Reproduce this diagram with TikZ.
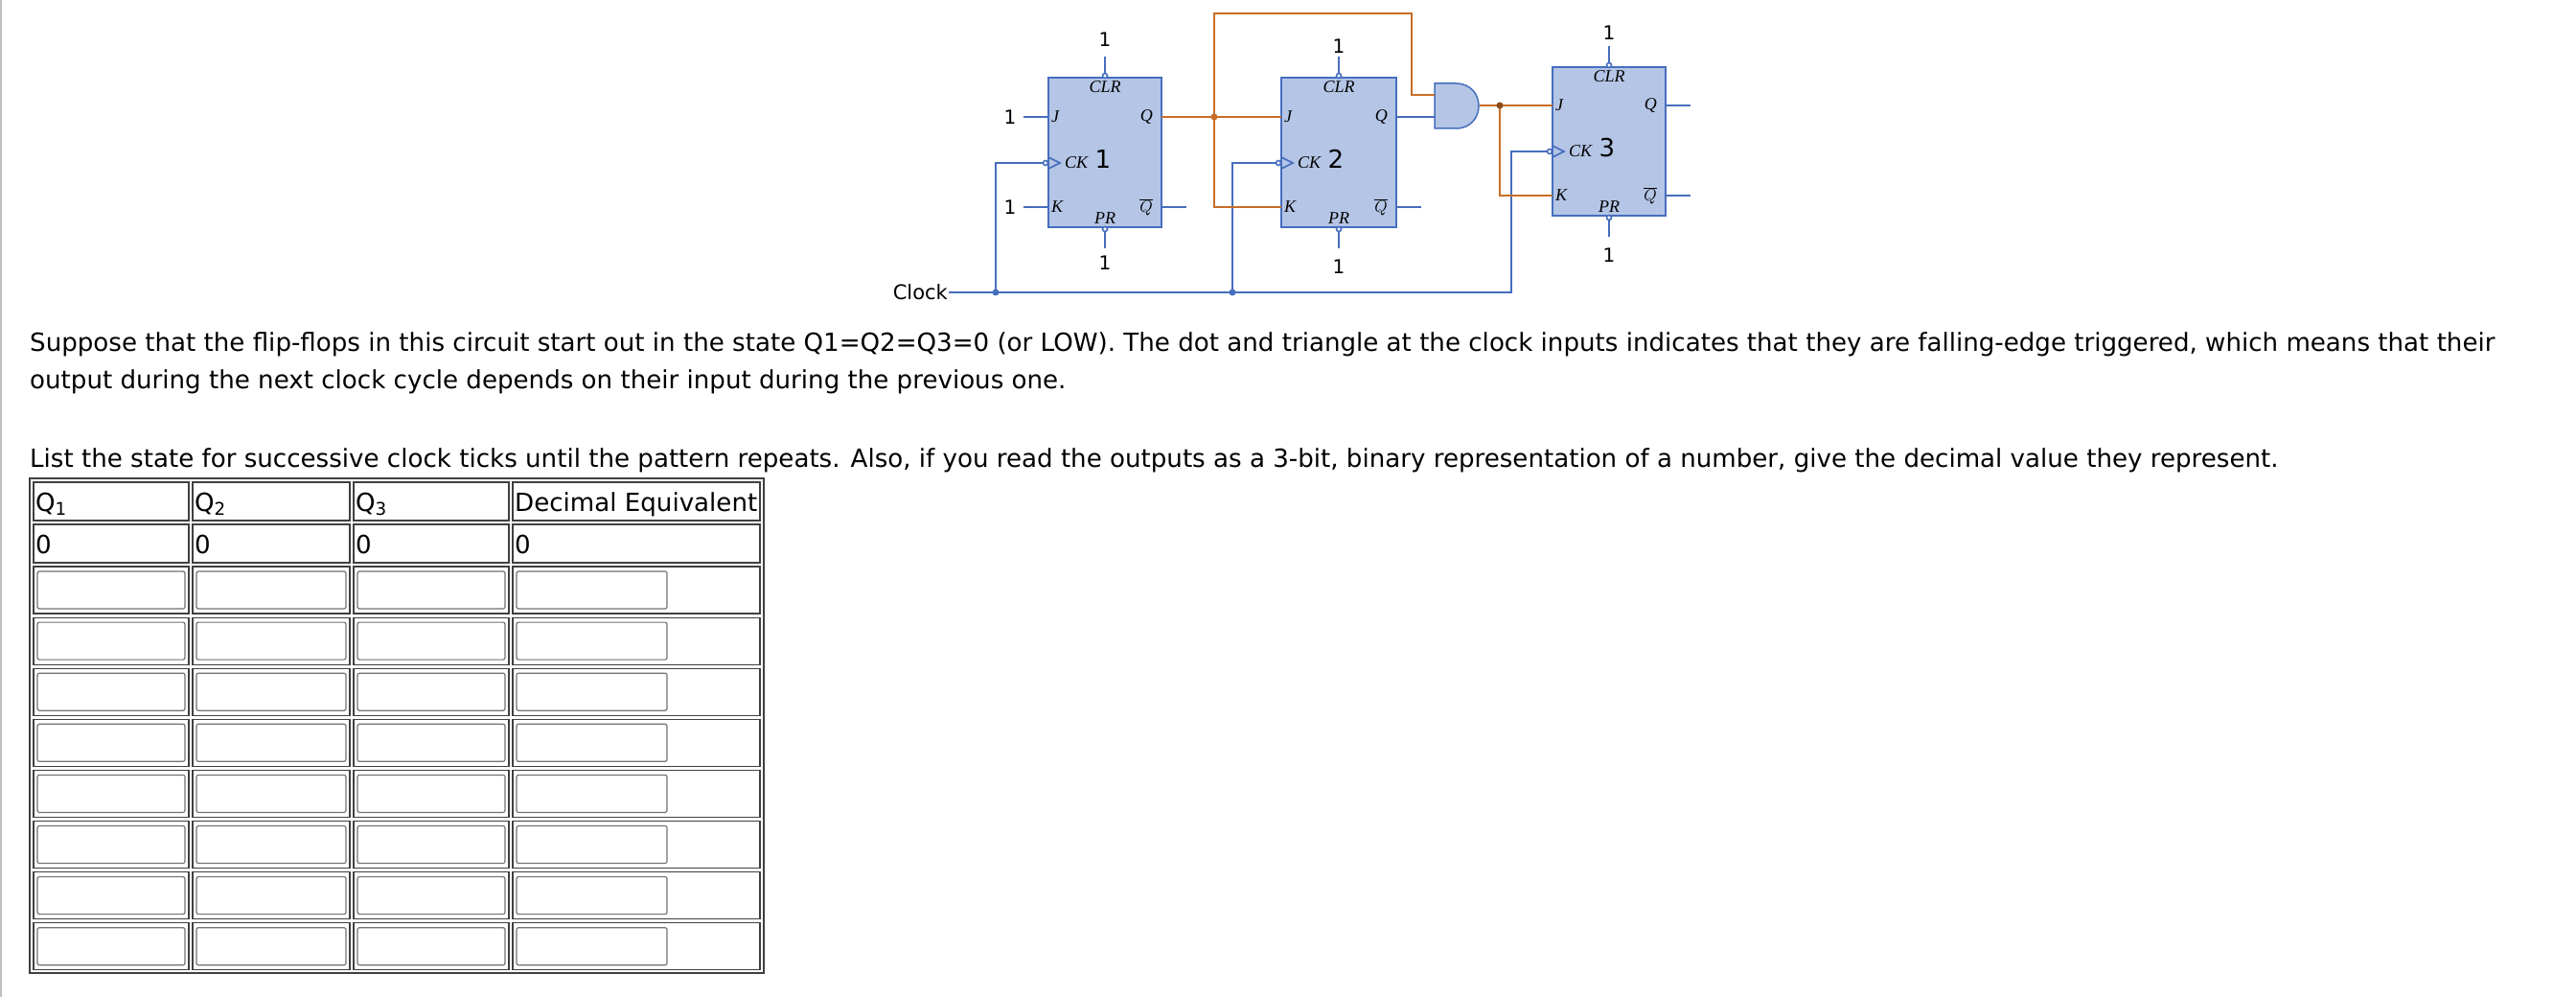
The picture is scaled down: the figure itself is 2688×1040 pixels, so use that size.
\documentclass[tikz,border=0pt]{standalone}
\usepackage{fontspec}
\setmainfont{DejaVu Sans}
\newfontfamily\serifc{Liberation Serif}
\definecolor{ffblue}{RGB}{180,197,230}
\definecolor{wblue}{RGB}{70,110,190}
\definecolor{worange}{RGB}{200,110,40}
\tikzset{
 ff/.style={draw=wblue,fill=ffblue,line width=1.5pt},
 bw/.style={draw=wblue,line width=1.6pt},
 ow/.style={draw=worange,line width=1.8pt},
 pin/.style={font=\serifc\itshape\fontsize{18}{18}\selectfont,inner sep=1pt},
 one/.style={font=\fontsize{20}{20}\selectfont,inner sep=1pt},
 txt/.style={font=\fontsize{26.1}{40}\selectfont,inner sep=0pt,anchor=base west},
 cell/.style={draw=black!75,line width=1.2pt},
 inbox/.style={draw=black!55,line width=1.2pt,rounded corners=2pt}
}
\begin{document}
\begin{tikzpicture}[x=1pt,y=-1pt]
\useasboundingbox (0,0) rectangle (2688,1040);
\fill[white] (0,0) rectangle (2688,1040);
\draw[black!25,line width=2pt] (1,0)--(1,1040);
% flip-flop boxes
\foreach \n/\xa/\xb/\ya/\yb/\j/\c/\k in {1/1094/1212/81/237/122/170/216, 2/1337/1457/81/237/122/170/216, 3/1620/1738/70/225/110/158/204}{
  \draw[ff] (\xa,\ya) rectangle (\xb,\yb);
  \coordinate (J\n) at (\xa,\j); \coordinate (K\n) at (\xa,\k); \coordinate (CK\n) at (\xa,\c);
  \coordinate (Q\n) at (\xb,\j); \coordinate (QB\n) at (\xb,\k);
  \node[pin,anchor=west] at (\xa+2,\j) {J};
  \node[pin,anchor=west] at (\xa+2,\k) {K};
  \node[pin,anchor=west] at (\xa+16,\c) {CK};
  \node[font=\fontsize{26}{26}\selectfont] at (\xa+57,\c-4) {\n};
  \node[pin,anchor=east] at (\xb-8,\j) {Q};
  \node[pin,anchor=east] at (\xb-8,\k) {$\overline{Q}$};
  \node[pin,anchor=north] at ({(\xa+\xb)/2},\ya+2) {CLR};
  \node[pin,anchor=south] at ({(\xa+\xb)/2},\yb-2) {PR};
  \draw[bw] ({(\xa+\xb)/2},\ya-4)--({(\xa+\xb)/2},\ya-22);
  \draw[bw,fill=white] ({(\xa+\xb)/2},\ya-2) circle (2.5);
  \draw[bw] ({(\xa+\xb)/2},\yb+4)--({(\xa+\xb)/2},\yb+22);
  \draw[bw,fill=white] ({(\xa+\xb)/2},\yb+2) circle (2.5);
  \draw[bw] (\xa,\c-6)--(\xa+12,\c)--(\xa,\c+6);
  \draw[bw,fill=white] (\xa-3,\c) circle (2.5);
  \draw[bw] (\xb,\k)--(\xb+26,\k);
}
\node[one] (c1) at (1153,41) {1};
\node[one] (c2) at (1397,48) {1};
\node[one] (c3) at (1679,34) {1};
\node[one] (p1) at (1153,274) {1};
\node[one] (p2) at (1397,278) {1};
\node[one] (p3) at (1679,266) {1};
\node[one] (j1) at (1054,122) {1};
\node[one] (k1) at (1054,216) {1};
\draw[bw] ([xshift=6pt]j1.east)--(J1);
\draw[bw] ([xshift=6pt]k1.east)--(K1);
\draw[bw] (Q3)--++(26,0);
% AND gate
\coordinate (gi1) at (1497,99);
\coordinate (gi2) at (1497,122);
\coordinate (go) at (1544,110);
\draw[draw=wblue,fill=ffblue,line width=1.5pt] (1497,87)--(1519,87) .. controls (1551,87) and (1551,134) .. (1519,134) -- (1497,134) -- cycle;
% clock
\node[font=\fontsize{21}{21}\selectfont,anchor=east,inner sep=1pt] (clk) at (990,305) {Clock};
\coordinate (cr) at (1577,305);
\draw[bw] (clk.east)--(cr)--(cr|-CK3)--([xshift=-6pt]CK3);
\draw[bw] (1039,305)--(1039,170)--([xshift=-6pt]CK1);
\draw[bw] (1286,305)--(1286,170)--([xshift=-6pt]CK2);
\fill[wblue] (1039,305) circle (3.5) (1286,305) circle (3.5);
% orange wiring
\coordinate (d1) at (1267,122);
\coordinate (tr) at (1473,14);
\draw[ow] (Q1)--(J2);
\draw[ow] (d1)--(1267,14)--(tr)--(tr|-gi1)--(gi1);
\draw[ow] (d1)--(1267,216)--(K2);
\fill[worange] (d1) circle (3.5);
\draw[bw] (Q2)--(gi2);
\coordinate (d2) at (1565,110);
\draw[ow] (go)--(J3);
\draw[ow] (d2)--(d2|-K3)--(K3);
\fill[worange!70!black] (d2) circle (3.5);
% text
\node[txt] at (31,367) {Suppose that the flip-flops in this circuit start out in the state Q1=Q2=Q3=0 (or LOW). The dot and triangle at the clock inputs indicates that they are falling-edge triggered, which means that their};
\node[txt] at (31,406) {output during the next clock cycle depends on their input during the previous one.};
\node[txt] at (31,487) {List the state for successive clock ticks until the pattern repeats. Also, if you read the outputs as a 3-bit, binary representation of a number, give the decimal value they represent.};
% table
\draw[cell] (31,499) rectangle (797,1015);
\foreach \xa/\xb in {35/197,201/365,369/531,535/793}{
  \draw[cell] (\xa,503) rectangle (\xb,543);
  \draw[cell] (\xa,547) rectangle (\xb,587);
  \foreach \r in {0,...,7}{
    \draw[cell] (\xa,{591+\r*53.1}) rectangle (\xb,{640+\r*53.1});
  }
}
\foreach \xa/\xb in {39/193,205/361,373/527,539/696}{
  \foreach \r in {0,...,7}{
    \draw[inbox] (\xa,{596+\r*53.1}) rectangle (\xb,{635+\r*53.1});
  }
}
\foreach \x/\s in {37/1,203/2,371/3}{
  \node[txt] at (\x,533) {Q\textsubscript{\s}};
  \node[txt] at (\x,577) {0};
}
\node[txt] at (537,533) {Decimal Equivalent};
\node[txt] at (537,577) {0};
\end{tikzpicture}
\end{document}
